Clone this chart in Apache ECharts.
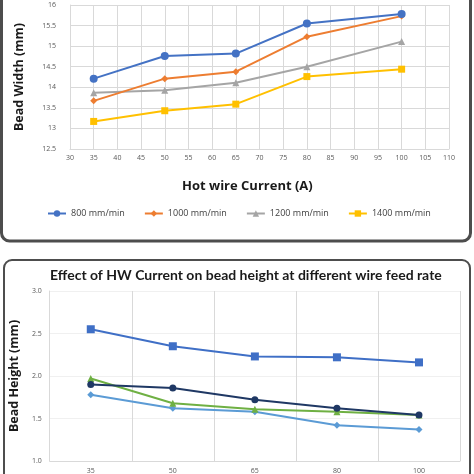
<!DOCTYPE html>
<html>
<head>
<meta charset="utf-8">
<script src="https://cdn.jsdelivr.net/npm/echarts@6/dist/echarts.min.js"></script>
<style>
  html, body { margin: 0; padding: 0; background: #fff; }
  #chart { width: 474px; height: 474px; }
</style>
</head>
<body>
<div id="chart"></div>
<script>
// top panel: bead width vs hot wire current
const currents = [35, 50, 65, 80, 100];
const feedRates = ['800 mm/min', '1000 mm/min', '1200 mm/min', '1400 mm/min'];
const width800 = [14.21, 14.76, 14.82, 15.55, 15.78];
const width1000 = [13.67, 14.21, 14.38, 15.23, 15.73];
const width1200 = [13.87, 13.93, 14.11, 14.50, 15.11];
const width1400 = [13.17, 13.43, 13.59, 14.26, 14.44];

// bottom panel: bead height vs HW current
const heightCats = ['35', '50', '65', '80', '100'];
const heightA = [2.55, 2.35, 2.23, 2.22, 2.16];
const heightB = [1.90, 1.86, 1.72, 1.62, 1.54];
const heightC = [1.97, 1.68, 1.61, 1.58, 1.54];
const heightD = [1.78, 1.62, 1.58, 1.42, 1.37];

const widthColors = ['#4472C4', '#ED7D31', '#A5A5A5', '#FFC000'];
const widthSymbols = ['circle', 'diamond', 'triangle', 'rect'];
const widthSeries = [width800, width1000, width1200, width1400];

const heightColors = ['#3F6FC6', '#1F3864', '#6FB043', '#5B9BD5'];
const heightSymbols = ['rect', 'circle', 'triangle', 'diamond'];
const heightSeries = [heightA, heightB, heightC, heightD];

const font = 'Open Sans, sans-serif';
const grid = '#D9D9D9';

const chart = echarts.init(document.getElementById('chart'), null, { renderer: 'canvas' });

const series = [];
widthSeries.forEach((vals, i) => {
  series.push({
    name: feedRates[i],
    type: 'line',
    xAxisIndex: 0,
    yAxisIndex: 0,
    data: vals.map((v, k) => [currents[k], v]),
    symbol: widthSymbols[i],
    symbolSize: i === 0 ? 8 : 7,
    color: widthColors[i],
    lineStyle: { width: 2 },
    z: 10 - i,
  });
});
heightSeries.forEach((vals, i) => {
  series.push({
    name: 'h' + i,
    type: 'line',
    xAxisIndex: 1,
    yAxisIndex: 1,
    data: vals,
    symbol: heightSymbols[i],
    symbolSize: i === 0 ? 8 : 7,
    color: heightColors[i],
    lineStyle: { width: 2 },
    z: 10 - i,
  });
});

chart.setOption({
  animation: false,
  backgroundColor: '#fff',
  graphic: [
    { type: 'rect', shape: { x: 1.5, y: -20, width: 469, height: 261, r: 8 },
      style: { fill: 'none', stroke: '#4d4d4d', lineWidth: 3 }, z: -1 },
    { type: 'rect', shape: { x: 4, y: 260, width: 466, height: 240, r: 8 },
      style: { fill: 'none', stroke: '#4d4d4d', lineWidth: 2 }, z: -1 },
  ],
  title: [
    { text: 'Hot wire Current (A)', left: 182, top: 180, padding: 0,
      textStyle: { fontFamily: font, fontSize: 13, fontWeight: 'bold', color: '#1a1a1a' } },
    { text: 'Effect of HW Current on bead height at different wire feed rate', left: 50, top: 268, padding: 0,
      textStyle: { fontFamily: 'Lato, sans-serif', fontSize: 14, fontWeight: 'bold', color: '#1a1a1a' } },
  ],
  legend: {
    data: feedRates,
    left: 42,
    top: 204,
    itemWidth: 18,
    itemHeight: 8,
    itemGap: 19,
    textStyle: { fontFamily: font, fontSize: 9, color: '#404040' },
  },
  grid: [
    { left: 70, right: 25, top: 5, height: 144 },
    { left: 40, right: 14, top: 291, height: 172 },
  ],
  xAxis: [
    {
      type: 'value', gridIndex: 0, min: 30, max: 110, interval: 5,
      axisLine: { lineStyle: { color: grid } },
      axisTick: { show: false },
      axisLabel: { fontFamily: font, fontSize: 7, color: '#595959', margin: 5 },
      splitLine: { show: true, lineStyle: { color: grid } },
    },
    {
      type: 'category', gridIndex: 1, data: heightCats, boundaryGap: true,
      axisLine: { lineStyle: { color: grid } },
      axisTick: { show: false },
      axisLabel: { fontFamily: font, fontSize: 7, color: '#595959', margin: 6 },
      splitLine: { show: true, lineStyle: { color: grid } },
    },
  ],
  yAxis: [
    {
      type: 'value', gridIndex: 0, min: 12.5, max: 16, interval: 0.5,
      name: 'Bead Width (mm)', nameLocation: 'middle', nameGap: 44, nameRotate: 90,
      nameTextStyle: { fontFamily: font, fontSize: 12.5, fontWeight: 'bold', color: '#1a1a1a' },
      axisLine: { show: true, lineStyle: { color: grid } },
      axisTick: { show: false },
      axisLabel: { fontFamily: font, fontSize: 7, color: '#595959', margin: 14 },
      splitLine: { show: true, lineStyle: { color: grid } },
    },
    {
      type: 'value', gridIndex: 1, min: 1, max: 3, interval: 0.5,
      name: 'Bead Height (mm)', nameLocation: 'middle', nameGap: 19, nameRotate: 90,
      nameTextStyle: { fontFamily: font, fontSize: 12.5, fontWeight: 'bold', color: '#1a1a1a' },
      axisLine: { show: true, lineStyle: { color: grid } },
      axisTick: { show: false },
      axisLabel: { fontFamily: font, fontSize: 7, color: '#595959', margin: 8,
        formatter: (v) => v.toFixed(1) },
      splitLine: { show: true, lineStyle: { color: '#F0F0F0' } },
    },
  ],
  series,
});
</script>
</body>
</html>
